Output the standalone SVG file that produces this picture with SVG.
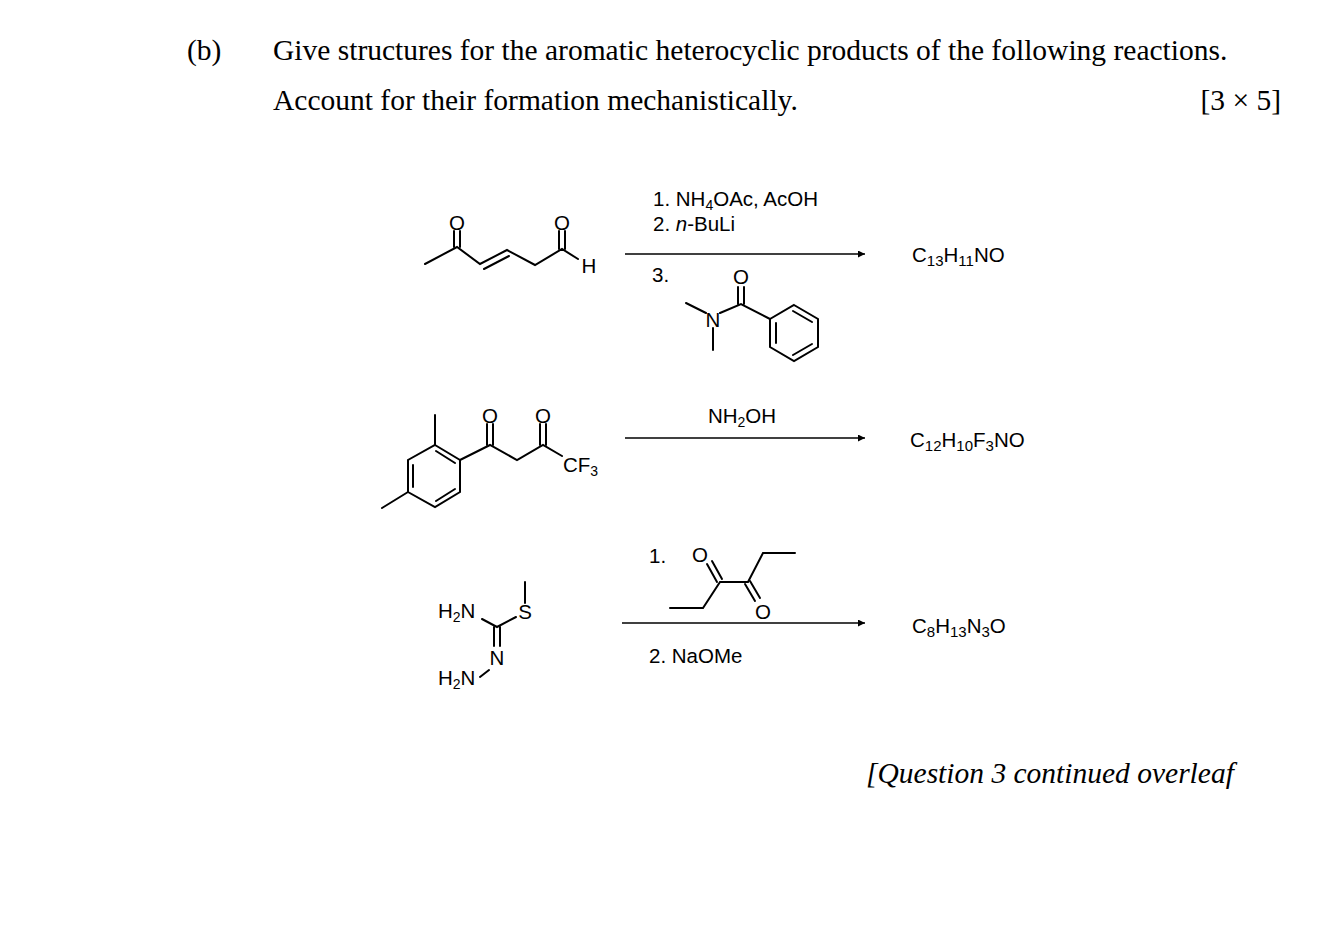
<svg xmlns="http://www.w3.org/2000/svg" width="1339" height="931" viewBox="0 0 1339 931">
<defs>
<style>
.t{font-family:"Liberation Serif",serif;font-size:29.5px;fill:#000}
.c{font-family:"Liberation Sans",Arial,sans-serif;font-size:20.5px;fill:#000}
.b{stroke:#000;stroke-width:2;fill:none;stroke-linecap:round}
.a{stroke:#000;stroke-width:1.5;fill:none}
</style>
<marker id="ah" viewBox="0 0 10 10" refX="10" refY="5" markerWidth="11" markerHeight="7" orient="auto" markerUnits="userSpaceOnUse"><path d="M0,0L10,5L0,10z" fill="#000"/></marker>
</defs>
<rect width="1339" height="931" fill="#fff"/>
<text class="t" x="187" y="60">(b)</text>
<text class="t" x="273" y="60">Give structures for the aromatic heterocyclic products of the following reactions.</text>
<text class="t" x="273" y="110">Account for their formation mechanistically.</text>
<text class="t" x="1281" y="110" text-anchor="end">[3 × 5]</text>
<text class="t" x="866" y="783" font-style="italic">[Question 3 continued overleaf</text>

<g id="m1">
<path class="b" d="M425,264L457,247L480,264L507,250L535,265L562,249L578,259"/>
<path class="b" d="M484,269L509,256"/>
<path class="b" d="M454,247V231M460,247V231M559,249V231M565,249V231"/>
<text class="c" x="457" y="230" text-anchor="middle">O</text>
<text class="c" x="562" y="230" text-anchor="middle">O</text>
<text class="c" x="589" y="273" text-anchor="middle">H</text>
</g>
<g id="m2">
<path class="b" d="M435,445L460,460L460,492L435,507L408,492L408,460Z"/>
<path class="b" d="M436,451L455,463M455,489L436,501M413,465V487"/>
<path class="b" d="M435,445V415M408,492L382,508M460,460L490,445L517,460L543,445L562,456"/>
<path class="b" d="M487,445V424M493,445V424M540,445V424M546,445V424"/>
<text class="c" x="490" y="423" text-anchor="middle">O</text>
<text class="c" x="543" y="423" text-anchor="middle">O</text>
<text class="c" x="563" y="472">CF<tspan font-size="14" dy="4">3</tspan></text>
</g>
<g id="m3">
<text class="c" x="438" y="618">H<tspan font-size="14" dy="4">2</tspan><tspan dy="-4">N</tspan></text>
<text class="c" x="525" y="619" text-anchor="middle">S</text>
<path class="b" d="M482,619L497,627L516,617M525,603V582M494,627V646M500,627V646M480,677L489,670"/>
<text class="c" x="497" y="665" text-anchor="middle">N</text>
<text class="c" x="438" y="685">H<tspan font-size="14" dy="4">2</tspan><tspan dy="-4">N</tspan></text>
</g>

<g id="connectors">
<line class="a" x1="625" y1="254" x2="865" y2="254" marker-end="url(#ah)"/>
<line class="a" x1="625" y1="438" x2="865" y2="438" marker-end="url(#ah)"/>
<line class="a" x1="622" y1="623" x2="865" y2="623" marker-end="url(#ah)"/>
</g>

<g id="r1">
<text class="c" x="653" y="206">1. NH<tspan font-size="14" dy="4">4</tspan><tspan dy="-4">OAc, AcOH</tspan></text>
<text class="c" x="653" y="231">2. <tspan font-style="italic">n</tspan>-BuLi</text>
<text class="c" x="652" y="282">3.</text>
<path class="b" d="M686,303L706,313M713,328V350M720,313L741,304L770,319M738,304V287M744,304V287"/>
<text class="c" x="713" y="327" text-anchor="middle">N</text>
<text class="c" x="741" y="284" text-anchor="middle">O</text>
<path class="b" d="M794,305L818,319L818,347L794,361L770,347L770,319Z"/>
<path class="b" d="M793,311L812,322M812,344L793,355M776,343V323"/>
</g>
<g id="r2">
<text class="c" x="742" y="423" text-anchor="middle">NH<tspan font-size="14" dy="4">2</tspan><tspan dy="-4">OH</tspan></text>
</g>
<g id="r3">
<text class="c" x="649" y="563">1.</text>
<text class="c" x="700" y="562" text-anchor="middle">O</text>
<text class="c" x="763" y="619" text-anchor="middle">O</text>
<path class="b" d="M670,608L703,608L720,582L748,582L763,553L795,553"/>
<path class="b" d="M707,564L717,582M712,561L722,579M745,584L755,601M750,581L760,598"/>
<text class="c" x="649" y="663">2. NaOMe</text>
</g>

<g id="products">
<text class="c" x="912" y="262">C<tspan font-size="15" dy="4">13</tspan><tspan dy="-4">H</tspan><tspan font-size="15" dy="4">11</tspan><tspan dy="-4">NO</tspan></text>
<text class="c" x="910" y="447">C<tspan font-size="15" dy="4">12</tspan><tspan dy="-4">H</tspan><tspan font-size="15" dy="4">10</tspan><tspan dy="-4">F</tspan><tspan font-size="15" dy="4">3</tspan><tspan dy="-4">NO</tspan></text>
<text class="c" x="912" y="633">C<tspan font-size="15" dy="4">8</tspan><tspan dy="-4">H</tspan><tspan font-size="15" dy="4">13</tspan><tspan dy="-4">N</tspan><tspan font-size="15" dy="4">3</tspan><tspan dy="-4">O</tspan></text>
</g>
</svg>
